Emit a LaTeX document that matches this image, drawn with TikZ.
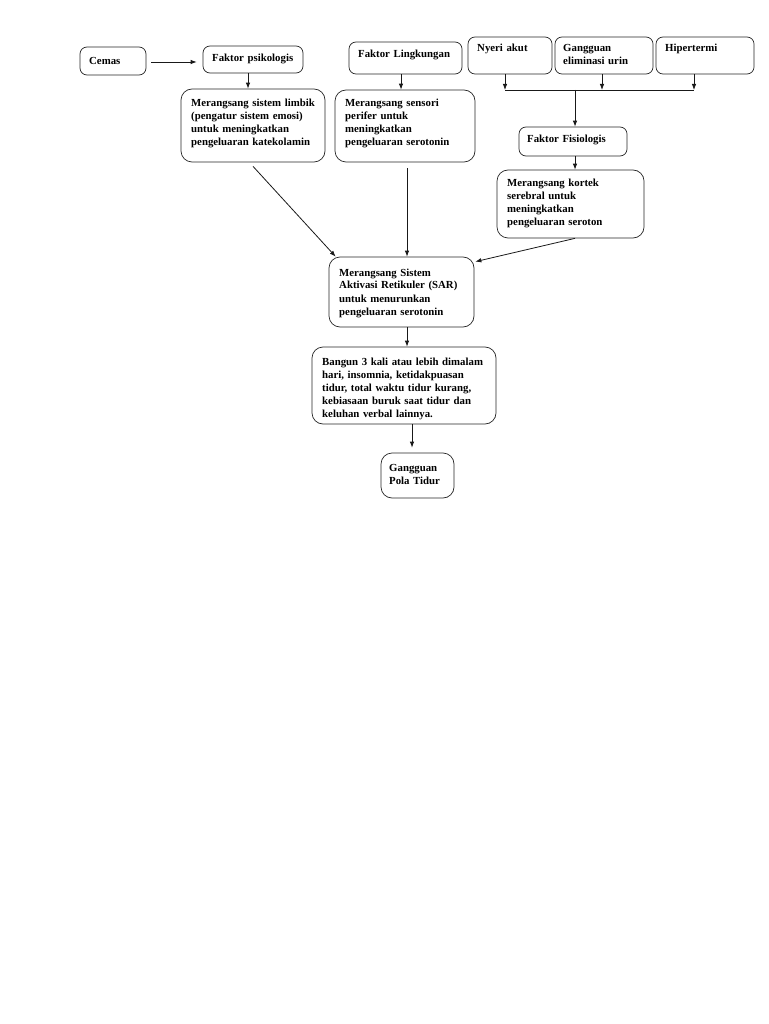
\documentclass[tikz,border=0pt]{standalone}
\usepackage{fontspec}
\setmainfont{Liberation Serif}
\usetikzlibrary{arrows.meta}
\begin{document}
\begin{tikzpicture}[x=1pt,y=-1pt,
  box/.style={draw=black!85, line width=0.7pt, rounded corners=7pt, inner sep=0pt, fill=white},
  bigbox/.style={box, rounded corners=11pt},
  txt/.style={anchor=base west, inner sep=0pt, align=left, text width=220pt,
    font=\fontsize{10.8}{13}\selectfont\bfseries},
  arr/.style={draw=black!90, line width=0.8pt, -{Latex[length=6pt,width=4.5pt]}},
  ln/.style={draw=black!90, line width=0.8pt}]
\useasboundingbox[fill=white] (0,0) rectangle (768,1024);
% boxes
\node[box, minimum width=66pt, minimum height=28pt] (cemas) at (113,61) {};
\node[box, minimum width=100pt, minimum height=27pt] (psi) at (253,59.5) {};
\node[box, minimum width=113pt, minimum height=32pt] (ling) at (405.5,58) {};
\node[box, minimum width=84pt, minimum height=37pt] (nyeri) at (510,55.5) {};
\node[box, minimum width=98pt, minimum height=37pt] (gangg) at (604,55.5) {};
\node[box, minimum width=98pt, minimum height=37pt] (hiper) at (705,55.5) {};
\node[bigbox, minimum width=144pt, minimum height=73pt] (limbik) at (253,125.5) {};
\node[bigbox, minimum width=140pt, minimum height=72pt] (sensori) at (405,126) {};
\node[box, minimum width=108pt, minimum height=29pt] (fisio) at (573,141.5) {};
\node[bigbox, minimum width=147pt, minimum height=68pt] (kortek) at (570.5,204) {};
\node[bigbox, minimum width=145pt, minimum height=70pt] (sar) at (401.5,292) {};
\node[bigbox, minimum width=184pt, minimum height=77pt] (bangun) at (404,385.5) {};
\node[bigbox, minimum width=73pt, minimum height=45pt] (pola) at (417.5,475.5) {};
% texts
\node[txt] (tcemas) at (89,65) {Cemas};
\node[txt] (tpsi) at (212,62) {Faktor psikologis};
\node[txt] (tling) at (358,58) {Faktor Lingkungan};
\node[txt] (tnyeri) at (477,52) {Nyeri akut};
\node[txt] (tgangg) at (563,52) {Gangguan\\eliminasi urin};
\node[txt] (thiper) at (665,52) {Hipertermi};
\node[txt] (tlimbik) at (191,107) {Merangsang sistem limbik\\(pengatur sistem emosi)\\untuk meningkatkan\\pengeluaran katekolamin};
\node[txt] (tsensori) at (345,107) {Merangsang sensori\\perifer untuk\\meningkatkan\\pengeluaran serotonin};
\node[txt] (tfisio) at (527,143) {Faktor Fisiologis};
\node[txt] (tkortek) at (507,187) {Merangsang kortek\\serebral untuk\\meningkatkan\\pengeluaran seroton};
\node[txt] (tsar) at (339,276) {Merangsang Sistem\\Aktivasi Retikuler (SAR)\\untuk menurunkan\\pengeluaran serotonin};
\node[txt] (tbangun) at (322,365) {Bangun 3 kali atau lebih dimalam\\hari, insomnia, ketidakpuasan\\tidur, total waktu tidur kurang,\\kebiasaan buruk saat tidur dan\\keluhan verbal lainnya.};
\node[txt] (tpola) at (389,471) {Gangguan\\Pola Tidur};
% junction coordinates
\coordinate (j1) at (505,90);
\coordinate (j2) at (602,90);
\coordinate (j3) at (694,90);
\coordinate (jm) at (575,90);
% connectors
\draw[arr] ([xshift=5pt,yshift=-1pt]cemas.east) -- ([xshift=-6pt,yshift=-2.5pt]psi.west);
\draw[arr] ([xshift=-5pt]psi.south) -- ([xshift=-5pt]limbik.north);
\draw[arr] ([xshift=-4.5pt]ling.south) -- ([xshift=-4pt]sensori.north);
\draw[arr] (nyeri.south -| j1) -- (j1);
\draw[arr] (gangg.south -| j2) -- (j2);
\draw[arr] (hiper.south -| j3) -- (j3);
\draw[ln] (j1) -- (j3);
\draw[arr] (jm) -- (jm |- fisio.north);
\draw[arr] ([xshift=2pt]fisio.south) -- ([xshift=4.5pt]kortek.north);
\draw[arr] ([yshift=-4pt]limbik.south) -- ([xshift=7pt]sar.north west);
\draw[arr] ([xshift=2pt,yshift=-6pt]sensori.south) -- ([xshift=5.5pt]sar.north);
\draw[arr] ([xshift=4.5pt]kortek.south) -- ([xshift=1pt,yshift=-5pt]sar.north east);
\draw[arr] ([xshift=5.5pt]sar.south) -- ([xshift=3pt]bangun.north);
\draw[arr] ([xshift=8pt]bangun.south) -- ([xshift=-5.5pt,yshift=5pt]pola.north);
\end{tikzpicture}
\end{document}
